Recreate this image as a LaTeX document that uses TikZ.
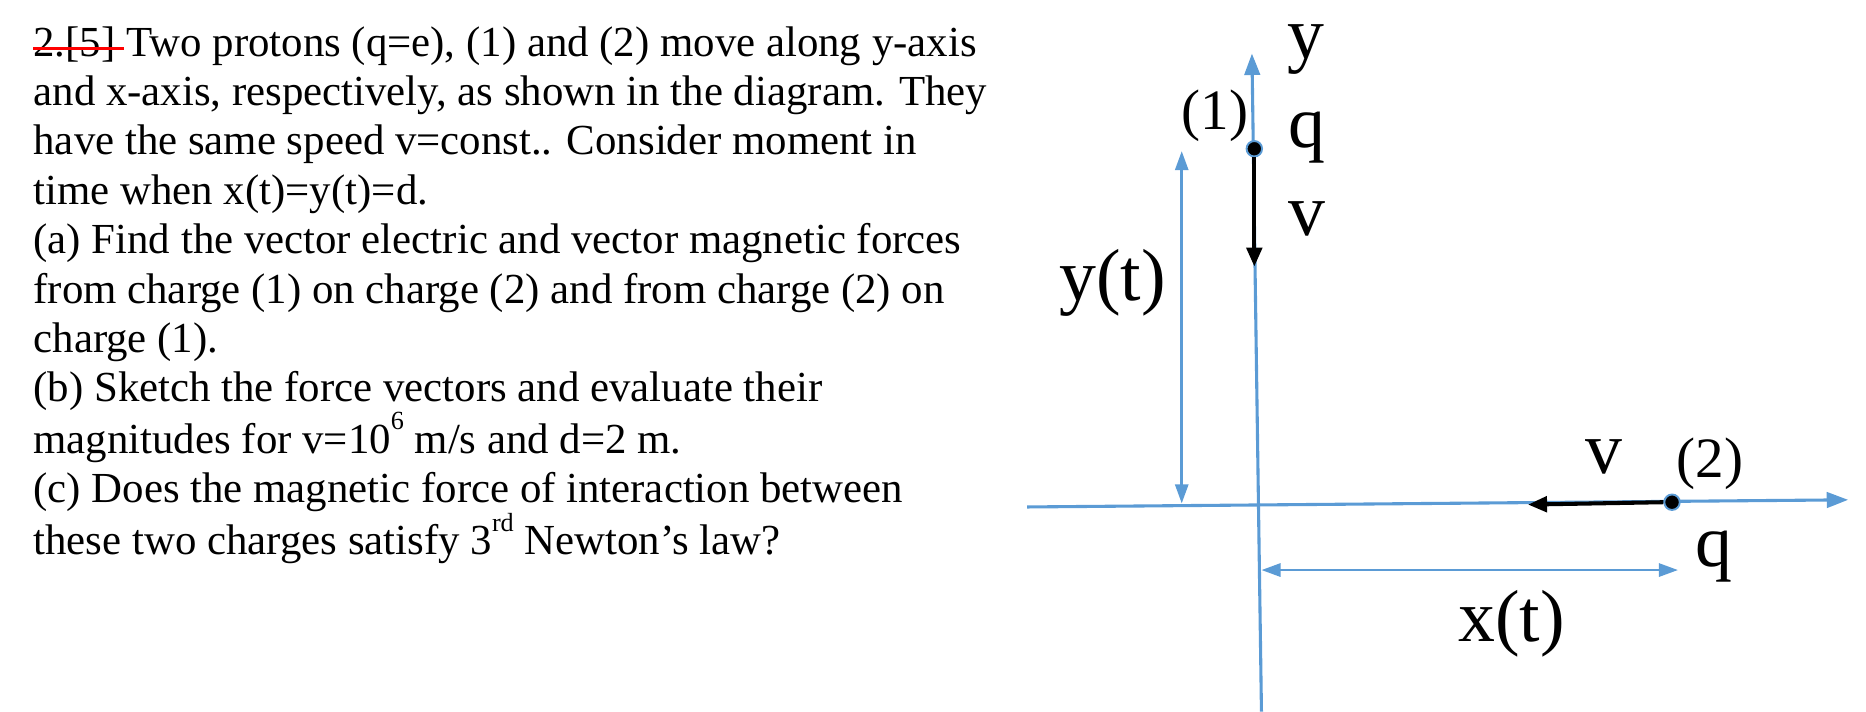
\documentclass[tikz,border=0pt]{standalone}
\usepackage{fontspec}
\setmainfont{Liberation Serif}
\usetikzlibrary{arrows.meta}
\definecolor{ax}{RGB}{91,155,213}
\newcommand{\mysup}[1]{\raisebox{0.55em}{\fontsize{22}{22}\selectfont #1}}
\begin{document}
\begin{tikzpicture}[x=1pt,y=-1pt,
  axis/.style={ax,line width=2.6pt,-{Triangle[length=18pt,width=13pt]}},
  dim/.style={ax,line width=2.2pt,{Triangle[length=16pt,width=11pt]}-{Triangle[length=16pt,width=11pt]}},
  vel/.style={black,line width=3.4pt,-{Triangle[length=16pt,width=13pt]}},
  chg/.style={circle,fill=black,draw=ax,line width=1.6pt,inner sep=0pt,minimum size=13pt},
  lbl/.style={inner sep=0pt,font=\fontsize{62}{62}\selectfont},
  sm/.style={inner sep=0pt,font=\fontsize{48}{48}\selectfont}]
\useasboundingbox (0,0) rectangle (1568,598);
\node[anchor=north west,inner sep=0pt,align=left,font=\fontsize{36}{41.5}\selectfont] (txt) at (28,22)
{2.[5] Two protons (q=e), (1) and (2) move along y-axis\\
and x-axis, respectively, as shown in the diagram. They\\
have the same speed v=const.. Consider moment in\\
time when x(t)=y(t)=d.\\
(a) Find the vector electric and vector magnetic forces\\
from charge (1) on charge (2) and from charge (2) on\\
charge (1).\\
(b) Sketch the force vectors and evaluate their\\
magnitudes for v=10\mysup{6} m/s and d=2 m.\\
(c) Does the magnetic force of interaction between\\
these two charges satisfy 3\mysup{rd} Newton’s law?};
\coordinate (s1) at (28,41); \coordinate (s2) at (104,41);
\draw[red,line width=2.4pt] (s1) -- (s2);
% axes
\coordinate (xa) at (863,426); \coordinate (xb) at (1553,420);
\coordinate (ya) at (1060,598); \coordinate (yb) at (1052,45);
\draw[axis] (xa) -- (xb);
\draw[axis] (ya) -- (yb);
% dimensions
\coordinate (d1) at (993,127); \coordinate (d2) at (993,423);
\draw[dim] (d1) -- (d2);
\coordinate (e1) at (1060,479); \coordinate (e2) at (1410,479);
\draw[dim] (e1) -- (e2);
% charges
\node[chg] (c1) at (1054,125) {};
\coordinate (v1) at (1054,224);
\draw[vel] (c1.south) -- (v1);
\node[chg] (c2) at (1405,422) {};
\coordinate (v2) at (1284,424);
\draw[vel] (c2.west) -- (v2);
% labels
\node[lbl] (ly) at (1097,42) {y};
\node[sm] (l1) at (1021,97) {(1)};
\node[lbl] (q1) at (1098,116) {q};
\node[lbl] (lv1) at (1098,184) {v};
\node[lbl] (yt) at (935,238) {y(t)};
\node[lbl] (lv2) at (1348,384) {v};
\node[sm] (l2) at (1437,390) {(2)};
\node[lbl] (q2) at (1440,468) {q};
\node[lbl] (xt) at (1270,524) {x(t)};
\end{tikzpicture}
\end{document}
